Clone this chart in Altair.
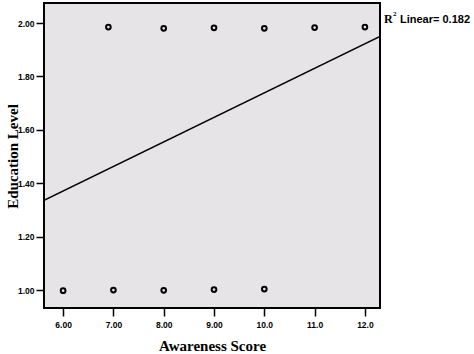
import altair as alt
import pandas as pd

# scatter data
top_x = [6.9, 8.0, 9.0, 10.0, 11.0, 12.0]
top_y = [1.985, 1.98, 1.982, 1.98, 1.983, 1.985]
bot_x = [6.0, 7.0, 8.0, 9.0, 10.0]
bot_y = [0.998, 1.0, 0.999, 1.002, 1.004]

# fitted line (R^2 linear = 0.182)
fit_x = [5.62, 12.3]
fit_y = [1.336, 1.95]

x_ticks = [6, 7, 8, 9, 10, 11, 12]
x_tick_labels = ["6.00", "7.00", "8.00", "9.00", "10.0", "11.0", "12.0"]
y_ticks = [1.0, 1.2, 1.4, 1.6, 1.8, 2.0]

pts = pd.DataFrame({"x": top_x + bot_x, "y": top_y + bot_y})
fit = pd.DataFrame({"x": fit_x, "y": fit_y})

label_map = "{" + ",".join(f"'{v}':'{l}'" for v, l in zip(x_ticks, x_tick_labels)) + "}"

xscale = alt.Scale(domain=[5.62, 12.3], nice=False, zero=False)
yscale = alt.Scale(domain=[0.933, 2.075], nice=False, zero=False)

xaxis = alt.Axis(values=x_ticks, labelExpr=f"{label_map}[datum.value]",
                 title="Awareness Score", titleFont="Liberation Serif", titleFontSize=15,
                 titleFontWeight="bold", titleColor="black", titlePadding=10,
                 labelFont="Liberation Sans", labelFontSize=8.5, labelFontWeight="bold",
                 labelColor="black", tickColor="black", tickSize=8, tickWidth=1.5,
                 domain=False, grid=False, labelPadding=4)
yaxis = alt.Axis(values=y_ticks, format=".2f",
                 title="Education Level", titleFont="Liberation Serif", titleFontSize=15,
                 titleFontWeight="bold", titleColor="black",
                 titleX=-32, titleY=153, titleBaseline="middle", titleAlign="center", titleAngle=270,
                 labelFont="Liberation Sans", labelFontSize=8.5, labelFontWeight="bold",
                 labelColor="black", tickColor="black", tickSize=8, tickWidth=1.5,
                 domain=False, grid=False, labelPadding=2)

points = alt.Chart(pts).mark_point(filled=False, color="black", strokeWidth=2, size=22, opacity=1).encode(
    x=alt.X("x:Q", scale=xscale, axis=xaxis),
    y=alt.Y("y:Q", scale=yscale, axis=yaxis),
)

line = alt.Chart(fit).mark_line(color="black", strokeWidth=1.5, clip=True).encode(
    x=alt.X("x:Q", scale=xscale),
    y=alt.Y("y:Q", scale=yscale),
)

ann = pd.DataFrame({"t": ["R"]})
r_txt = alt.Chart(ann).mark_text(text="R", font="Liberation Serif", fontWeight="bold", fontSize=12,
                                 align="left", baseline="alphabetic", color="black").encode(
    x=alt.value(340), y=alt.value(20))
two_txt = alt.Chart(ann).mark_text(text="2", font="Liberation Serif", fontWeight="bold", fontSize=7,
                                   align="left", baseline="alphabetic", color="black").encode(
    x=alt.value(349), y=alt.value(13))
lin_txt = alt.Chart(ann).mark_text(text="Linear= 0.182", font="Liberation Sans", fontWeight="bold", fontSize=11,
                                   align="left", baseline="alphabetic", color="black").encode(
    x=alt.value(356), y=alt.value(20))

chart = alt.layer(line, points, r_txt, two_txt, lin_txt).properties(
    width=336, height=305,
    autosize=alt.AutoSizeParams(type="none"),
    padding={"left": 44, "top": 3, "right": 94, "bottom": 46},
    background="white",
).configure_view(fill="#E6E4E6", stroke="black", strokeWidth=2)

chart.save("out.html", embed_options={"renderer": "svg", "actions": False})
